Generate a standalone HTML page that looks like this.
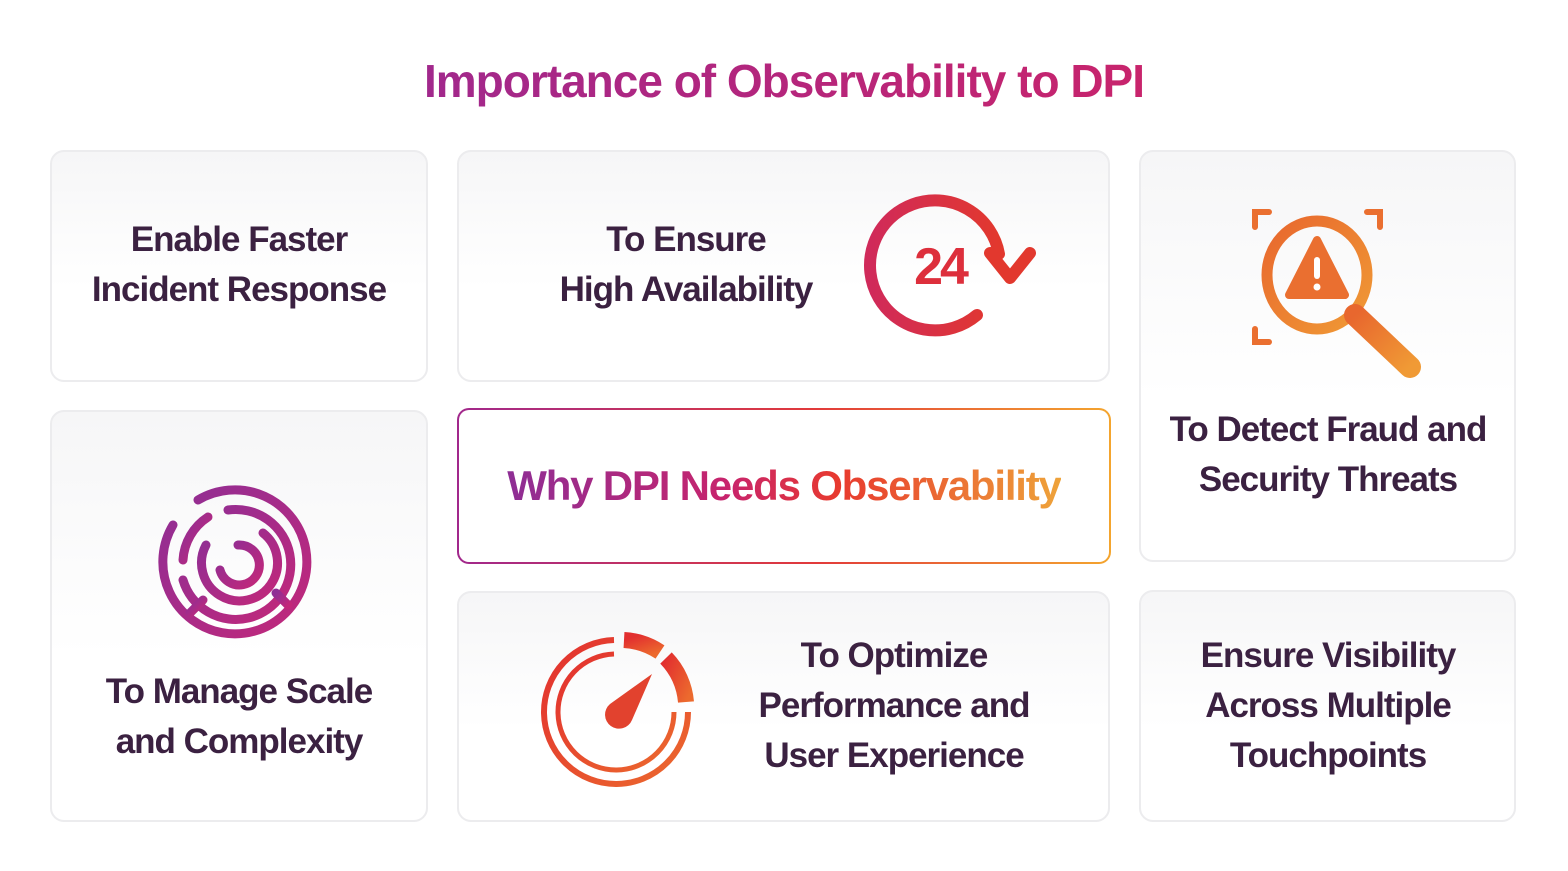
<!DOCTYPE html>
<html><head><meta charset="utf-8"><style>
body{margin:0;width:1568px;height:871px;background:#fff;position:relative;overflow:hidden;font-family:"Liberation Sans",sans-serif}
.card{position:absolute;border:2px solid #ececee;border-radius:14px;background:linear-gradient(180deg,#f6f6f7,#ffffff 60%);box-sizing:border-box}
.t{position:absolute;color:#3b2141;font-weight:bold;font-size:35px;letter-spacing:-1px;line-height:50px;text-align:center;white-space:nowrap;transform:translateX(-50%)}
</style></head><body>
<div style="position:absolute;left:0;width:1568px;top:54px;text-align:center;font-weight:bold;font-size:46px;letter-spacing:-1px;"><span style="background:linear-gradient(90deg,#a1288c,#c8246c);-webkit-background-clip:text;color:transparent">Importance of Observability to DPI</span></div>

<div class="card" style="left:50px;top:150px;width:378px;height:232px"></div>
<div class="t" style="left:239px;top:215px">Enable Faster<br>Incident Response</div>

<div class="card" style="left:457px;top:150px;width:653px;height:232px"></div>
<div class="t" style="left:686px;top:215px">To Ensure<br>High Availability</div>
<svg style="position:absolute;left:860px;top:185px" width="180" height="175" viewBox="0 0 180 175">
<defs><linearGradient id="g1" x1="0" x2="1"><stop offset="0" stop-color="#d02a5a"/><stop offset="1" stop-color="#e2382e"/></linearGradient></defs>
<path d="M139 69 A65 65 0 1 0 117 130" fill="none" stroke="url(#g1)" stroke-width="12" stroke-linecap="round"/>
<path d="M130 68 L150 93 L170 68" fill="none" stroke="#e2382e" stroke-width="12" stroke-linecap="round" stroke-linejoin="round"/>
<text x="80" y="99" text-anchor="middle" font-family="Liberation Sans" font-weight="bold" font-size="52" letter-spacing="-3" fill="#dd2f3c">24</text>
</svg>

<div class="card" style="left:1139px;top:150px;width:377px;height:412px"></div>
<svg style="position:absolute;left:1245px;top:205px" width="180" height="175" viewBox="0 0 180 175">
<defs><linearGradient id="g2" x1="0" y1="0" x2="1" y2="1"><stop offset="0" stop-color="#e8672e"/><stop offset="1" stop-color="#f09a35"/></linearGradient></defs>
<g fill="none" stroke="#ea6f30" stroke-width="6" stroke-linecap="round">
<path d="M10 22 V7 H24"/><path d="M122 7 H135 V22"/><path d="M10 124 V137 H24"/></g>
<ellipse cx="72" cy="70" rx="50" ry="54" fill="none" stroke="url(#g2)" stroke-width="11"/>
<path d="M110 110 L165 162" stroke="url(#g2)" stroke-width="22" stroke-linecap="round"/>
<path d="M72 35 L100 90 H44 Z" fill="#ea6f30" stroke="#ea6f30" stroke-width="8" stroke-linejoin="round"/>
<rect x="69" y="52" width="6" height="22" rx="3" fill="#fff"/><circle cx="72" cy="82" r="3.5" fill="#fff"/>
</svg>
<div class="t" style="left:1328px;top:405px">To Detect Fraud and<br>Security Threats</div>

<div class="card" style="left:50px;top:410px;width:378px;height:412px"></div>
<svg style="position:absolute;left:158px;top:485px" width="162" height="160" viewBox="0 0 162 160">
<defs><linearGradient id="g3" x1="0" y1="0" x2="1" y2="1"><stop offset="0" stop-color="#8e2e95"/><stop offset="1" stop-color="#c2287a"/></linearGradient></defs>
<g fill="none" stroke="url(#g3)" stroke-width="9" stroke-linecap="round">
<path d="M40 15 A72 72 0 1 1 15 40"/>
<path d="M70 25 A55 55 0 1 1 25 95"/><path d="M25 75 A55 55 0 0 1 50 32"/>
<path d="M80 30 V50"/><path d="M105 48 A38 38 0 1 1 48 60"/>
<path d="M80 60 A20 20 0 1 1 62 85"/><path d="M45 115 L32 128"/><path d="M118 108 L130 120"/>
</g></svg>
<div class="t" style="left:239px;top:667px">To Manage Scale<br>and Complexity</div>

<div style="position:absolute;left:457px;top:408px;width:654px;height:156px;border-radius:12px;padding:2px;box-sizing:border-box;background:linear-gradient(90deg,#a1288c,#e23a3a 55%,#f4a52e)"><div style="width:100%;height:100%;background:#fff;border-radius:10px"></div></div>
<div style="position:absolute;left:457px;width:654px;top:462px;text-align:center;font-weight:bold;font-size:42px;letter-spacing:-1.2px"><span style="background:linear-gradient(90deg,#8e2e95,#c8246c 40%,#e83a2e 60%,#eea33a);-webkit-background-clip:text;color:transparent">Why DPI Needs Observability</span></div>

<div class="card" style="left:457px;top:591px;width:653px;height:231px"></div>
<svg style="position:absolute;left:540px;top:632px" width="160" height="160" viewBox="0 0 160 160">
<defs><linearGradient id="g4" x1="0" y1="0" x2="1" y2="1"><stop offset="0" stop-color="#e22f2f"/><stop offset="1" stop-color="#ec6a2e"/></linearGradient></defs>
<g fill="none" stroke="url(#g4)" stroke-linecap="butt">
<path d="M74 8 A72 72 0 1 0 148 80" stroke-width="6"/>
<path d="M74 22 A58 58 0 1 0 134 80" stroke-width="5"/>
<path d="M84 8 A72 72 0 0 1 120 20" stroke-width="16"/>
<path d="M126 26 A72 72 0 0 1 146 70" stroke-width="16"/>
</g>
<path d="M112 42 L92 88 A14 14 0 1 1 70 72 Z" fill="#e2422e"/>
</svg>
<div class="t" style="left:894px;top:631px">To Optimize<br>Performance and<br>User Experience</div>

<div class="card" style="left:1139px;top:590px;width:377px;height:232px"></div>
<div class="t" style="left:1328px;top:631px">Ensure Visibility<br>Across Multiple<br>Touchpoints</div>
</body></html>
